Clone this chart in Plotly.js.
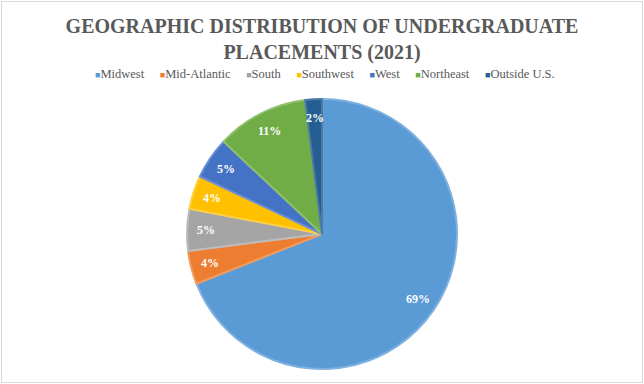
<!DOCTYPE html>
<html>
<head>
<meta charset="utf-8">
<script src="https://cdn.plot.ly/plotly-3.0.1.min.js"></script>
<style>html,body{margin:0;padding:0;background:#fff;}#chart{width:644px;height:384px;}</style>
</head>
<body>
<div id="chart"></div>
<script>
const regions = ['Midwest', 'Mid-Atlantic', 'South', 'Southwest', 'West', 'Northeast', 'Outside U.S.'];
const shares = [69, 4, 5, 4, 5, 11, 2];
const colors = ['#5B9BD5', '#ED7D31', '#A5A5A5', '#FFC000', '#4472C4', '#70AD47', '#255E91'];
const edgeColors = ['#7FB1DF', '#F29A5C', '#BDBDBD', '#FFCF40', '#6A8FD2', '#8FC06E', '#4D7AA5'];
const chartTitle = 'GEOGRAPHIC DISTRIBUTION OF UNDERGRADUATE<br>PLACEMENTS (2021)';

const serif = 'Liberation Serif';
const W = 644, H = 384;
// pie placement (pixels)
const cx = 322, cy = 234, R = 135;
const labelRadius = 0.86;

const trace = {
  type: 'pie',
  labels: regions,
  values: shares,
  sort: false,
  direction: 'clockwise',
  rotation: 0,
  marker: { colors: colors, line: { color: edgeColors, width: 2 } },
  textinfo: 'none',
  hoverinfo: 'label+percent',
  domain: { x: [(cx - R) / W, (cx + R) / W], y: [(H - cy - R) / H, (H - cy + R) / H] },
  showlegend: false
};

// data labels placed at the middle angle of each slice
const total = shares.reduce((a, b) => a + b, 0);
let cum = 0;
const labelAnns = shares.map((v, i) => {
  const mid = (cum + v / 2) / total * 2 * Math.PI;
  cum += v;
  return {
    text: '<b>' + Math.round(v / total * 100) + '%</b>',
    xref: 'paper', yref: 'paper',
    x: (cx + labelRadius * R * Math.sin(mid)) / W,
    y: (H - cy + labelRadius * R * Math.cos(mid)) / H,
    xanchor: 'center', yanchor: 'middle',
    showarrow: false,
    font: { family: serif, size: 12, color: '#ffffff' }
  };
});

const legendHtml = regions.map((r, i) =>
  '<span style="color:' + colors[i] + ';font-size:9px">\u25A0</span>' + r
).join('\u00a0\u00a0\u00a0\u00a0\u00a0');

const layout = {
  width: W,
  height: H,
  margin: { l: 0, r: 0, t: 0, b: 0 },
  paper_bgcolor: '#ffffff',
  title: {
    text: chartTitle,
    x: 0.5,
    xanchor: 'center',
    xref: 'paper',
    y: 1 - 33 / H,
    yref: 'container',
    yanchor: 'top',
    font: { family: serif, size: 20, color: '#595959', weight: 'bold' }
  },
  annotations: [{
    text: legendHtml,
    xref: 'paper', yref: 'paper',
    x: 0.504, y: (H - 74) / H,
    xanchor: 'center', yanchor: 'middle',
    showarrow: false,
    font: { family: serif, size: 12.5, color: '#595959' }
  }].concat(labelAnns),
  shapes: [{
    type: 'rect', xref: 'paper', yref: 'paper',
    x0: 1.5 / W, x1: 642.5 / W, y0: 1.5 / H, y1: 382.5 / H,
    line: { color: '#D9D9D9', width: 1 }
  }]
};

Plotly.newPlot('chart', [trace], layout, { displayModeBar: false, staticPlot: true });
</script>
</body>
</html>
